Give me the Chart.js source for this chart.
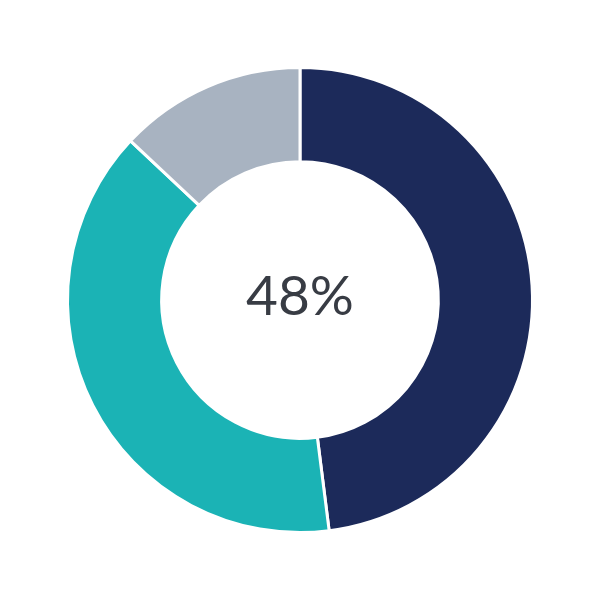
<!DOCTYPE html>
<html>
<head>
<meta charset="utf-8">
<script src="https://cdn.jsdelivr.net/npm/chart.js@4"></script>
<style>
html,body{margin:0;padding:0;background:#fff;}
#wrap{width:600px;height:600px;position:relative;}
</style>
</head>
<body>
<div id="wrap"><canvas id="c" width="600" height="600"></canvas></div>
<script>
const categories = ["Segment A", "Segment B", "Segment C"];
const values = [48, 39, 13];
const colors = ["#1c2a5a", "#1bb3b5", "#a8b3c1"];
const centerLabel = "48%";

const centerText = {
  id: "centerText",
  afterDraw(chart) {
    const ctx = chart.ctx;
    const meta = chart.getDatasetMeta(0);
    const arc = meta.data[0];
    ctx.save();
    ctx.font = "400 55px Lato, 'Open Sans', sans-serif";
    ctx.fillStyle = "#383c44";
    ctx.textAlign = "center";
    ctx.textBaseline = "middle";
    ctx.fillText(centerLabel, arc.x, arc.y - 3);
    ctx.restore();
  }
};

new Chart(document.getElementById("c"), {
  type: "doughnut",
  data: {
    labels: categories,
    datasets: [{
      data: values,
      backgroundColor: colors,
      borderColor: "#ffffff",
      borderWidth: 3
    }]
  },
  options: {
    responsive: false,
    animation: false,
    cutout: "59.5%",
    layout: { padding: 66 },
    plugins: { legend: { display: false }, tooltip: { enabled: false } }
  },
  plugins: [centerText]
});
</script>
</body>
</html>
